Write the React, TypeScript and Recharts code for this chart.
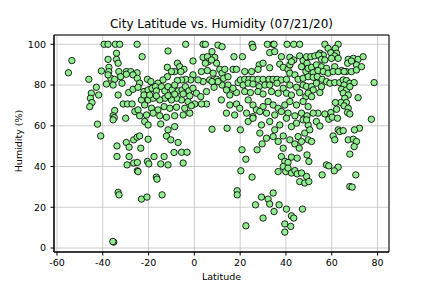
import { ScatterChart, Scatter, XAxis, YAxis, CartesianGrid, ReferenceArea } from "recharts";

// [latitude, humidity %], grouped by latitude band
const southCities: [number, number][] = [
  [-39.4, 100], [-37.7, 100], [-34.5, 100], [-32.6, 100], [-25, 100],
  [-53.5, 92], [-55, 86],
  [-34, 95.6], [-37.7, 92.6], [-34, 92.6], [-33.3, 90.7], [-40.6, 86.9], [-37.3, 88.7], [-37.4, 86.6], [-33, 86.6],
  [-29.7, 86.6], [-27.8, 86.6], [-25, 86], [-36.5, 83.4],
  [-46.1, 82.8], [-37.7, 85], [-34.8, 82.8], [-32.2, 84.1], [-29.7, 85.3], [-26.8, 85], [-24.9, 83.3],
  [-38.4, 80.5], [-35.5, 80], [-31.6, 80.9], [-23.9, 80.9], [-42.8, 78.9], [-45, 76], [-41.8, 75.1], [-33.3, 75.1],
  [-28.7, 76.3], [-26.8, 77.9],
  [-45.4, 73.5], [-44.7, 71.4], [-45.7, 69.4], [-31.1, 70.7], [-29.2, 70.7], [-27.2, 70.7], [-34.8, 67.5], [-26, 67],
  [-24.6, 67.8], [-35.5, 64.9], [-35, 64], [-35.5, 62.9], [-30, 63.7], [-42.3, 60.8], [-40.9, 55], [-29.7, 51.8],
  [-26.5, 53.1], [-25, 54.4],
  [-33.8, 50.1], [-28.5, 49.5], [-33.8, 44.9], [-28.5, 44.9], [-29.4, 40.8], [-26.5, 41.7], [-24.9, 37.9],
  [-33.3, 27.3], [-32.9, 26.1], [-35.2, 2.9], [-35.6, 3.2],
  [-22.8, 93.9], [-24.6, 78.9], [-22, 76.8], [-20.5, 82.8], [-23.1, 72.7], [-22, 75.1], [-21.7, 70.2],
  [-23.9, 64.9], [-20.9, 65.3], [-21.7, 62.1], [-20.2, 60.4], [-23.9, 55], [-20.2, 53.4], [-20.2, 72.7], [-20.2, 77.6],
  [-23.4, 49], [-24.9, 42], [-24.6, 37.5], [-20.5, 42.5], [-19.9, 41.3], [-23.1, 24], [-20.7, 25],
];

const tropicCities: [number, number][] = [
  [-3.8, 100], [3.8, 100], [4.8, 100], [10.3, 99.6], [12.1, 98.8], [-11.5, 96.7],
  [3.8, 93.6], [5.7, 93.9], [7.7, 96.4], [8.9, 93.6], [6, 91.4], [9.7, 90.7], [4.8, 90.7], [7.5, 92.3], [-0.6, 91.8],
  [-7.4, 90.7], [-11.8, 88.7], [-6.4, 89], [-4.5, 87.7], [-8.6, 86.6], [-5.9, 86.6],
  [-10, 86.6], [-11.8, 84.1], [-13.7, 82.5], [-15.9, 80.9], [-19, 81.7],
  [-0.6, 85], [3.1, 86.6], [5.7, 87.1], [8.2, 85.8], [11.1, 87.7], [12.1, 85.8], [9.7, 82.8], [6.7, 82.5], [3.8, 81.7],
  [1.6, 82.5], [-1.6, 82.5], [-3.8, 82.8], [-5.6, 82.5], [-7.4, 82.2],
  [5.3, 76.8], [8.6, 78.9], [12.1, 80], [10.3, 81.7], [7.7, 81.7],
  [-18.5, 78.4], [-17, 79.2], [-16.6, 77.1], [-14.4, 79.2], [-12.9, 77.1], [-11.5, 79.2], [-9.7, 77.6], [-8.6, 80],
  [-7.1, 77.1], [-5.4, 77.6], [-3.9, 79.2], [-2.4, 77.1], [-0.6, 78.4], [0.9, 76], [2.8, 74.3], [5.3, 70.7], [3.1, 70.7],
  [0.2, 70.7], [-2.8, 71.9], [-5.6, 72.7], [-7.8, 73.5], [-10, 72.7], [-12.9, 73.5], [-15.1, 72.7], [-18, 73.5],
  [-19.5, 75.1], [-16.6, 74.7], [-11.5, 74.8], [-8.6, 75.5], [-4.9, 75.6], [-2, 74.7],
  [-18.7, 68.6], [-15.9, 67.8], [-13.2, 69.4], [-10.7, 68.6], [-7.8, 69.1], [-4.2, 68.6], [-1.3, 69.8], [-18, 66.2],
  [-15.1, 64.9], [-12.2, 64.2], [-8.6, 64.9], [-4.9, 65.3], [-2, 66.2], [-14.7, 60.9], [-11.5, 58], [-8.6, 59.6],
  [-12.2, 55], [-7.1, 51.8], [7.7, 58.3],
  [-17.6, 44.9], [-14.7, 41.3], [-13.2, 44.9], [-11.5, 40.8], [-8.9, 46.9], [-5.6, 47], [-3.2, 47], [-4.9, 41.7],
  [-10.3, 53.1], [-16.6, 34.8], [-16.3, 33.8], [-14.1, 26.1],
  [13.3, 87.7], [16.9, 87.7], [18.4, 87.7], [17.3, 93.9], [12.8, 83.3], [14.7, 84.1], [14.7, 80], [19.1, 81.2],
  [15.5, 75.1], [18.4, 76.3], [14, 77.6], [16.9, 78.4], [11.8, 72.7], [15.5, 70.2], [18.4, 70.7], [19.8, 68.6],
  [14, 66.2], [17.6, 65.3], [14.3, 58.8], [18.7, 28.1], [18.7, 26.1],
];

const northCities: [number, number][] = [
  [25.2, 100], [31.9, 100], [34.4, 100], [34.8, 100], [40.5, 100], [43.4, 100], [46, 100],
  [25.6, 98.5], [32.9, 95.9], [35.1, 96.4], [38, 93.9], [21, 93.9],
  [41.7, 93.6], [43.4, 92.3], [46, 94.3], [47.5, 92], [49.2, 90.7],
  [28.3, 89.9], [30, 90.7], [27.8, 87.7], [25, 86.6], [22, 86.6],
  [32.9, 88.5], [37.3, 90.3], [38.8, 88.7], [40.9, 87.7], [41.7, 89.9], [42.4, 91.5], [46.8, 89], [48.7, 86.6], [49.7, 88.2],
  [20.1, 82.5], [22, 82.8], [23.9, 82.8], [25.6, 82.8], [27.8, 82.8], [30, 82.8], [32.6, 82.8], [34.4, 82.8],
  [36.1, 82.8], [38, 82.5], [40.2, 82.8], [41.7, 85.8], [43.9, 85], [45.3, 82.8], [47.5, 83.3], [49.7, 84.1],
  [21.3, 80], [23.5, 80.9], [25.6, 80.5], [28.3, 79.2], [30.8, 80], [32.9, 80], [36.1, 80.9], [38.8, 78.4],
  [41.7, 80], [44.6, 78.9], [47.5, 80], [49, 79.3],
  [22, 76.8], [24.5, 76.3], [27.8, 76.8], [30, 75.6], [33.7, 76.8], [36.6, 76], [40.2, 76], [42.4, 75.1], [46, 76.3], [48.7, 74.3],
  [23.5, 72.7], [25.6, 70.2], [27.1, 67.8], [30, 69.4], [32.2, 71.9], [34.4, 70.2], [36.6, 68.6], [39.5, 70.2],
  [41.7, 71.9], [44.6, 70.2], [47.5, 71.9], [49.7, 69.4],
  [22.8, 66.2], [25.6, 64.5], [28.6, 67], [31.5, 66.2], [35.1, 65.3], [38, 67], [40.9, 66.2], [43.9, 64.9], [46.8, 66.2], [49.2, 64.9],
  [20.1, 58], [23.5, 62.1], [25.6, 63.7], [29.3, 60.4], [32.9, 62.1], [35.1, 58], [37.3, 60.4], [40.2, 63.7],
  [42.4, 59.6], [44.6, 61.3], [47.5, 62.9], [49.7, 60.4],
  [28.6, 56.4], [31.5, 53.9], [34.4, 54.7], [36.6, 52.3], [38.8, 55], [41.7, 53.1], [45.3, 54.7], [48.2, 56.4], [49.7, 53.1],
  [20.8, 48.2], [22.5, 43.6], [27.4, 48.2], [29.6, 51.1], [38.8, 49], [43.9, 51.1], [45.8, 49], [46.8, 52.3], [49.2, 45.7],
  [38, 44.9], [39.5, 42.5], [42.4, 44.6], [44.9, 44.1], [40.9, 42],
  [20.3, 37.9], [25.2, 34.8],
  [36.6, 37.5], [38.8, 40], [39.9, 37.5], [40.9, 39.2], [42.4, 36.8], [43.9, 38], [44.9, 36.4], [46.8, 36.8],
  [46, 32.6], [49, 35.1], [48.2, 31.9],
  [29.3, 25], [32.2, 24], [34.4, 27], [32.9, 21.6], [26.7, 21.2], [37, 21.2], [34.8, 17.9], [30, 14.7], [40.2, 19.1],
  [47.2, 19.1], [42.4, 15.8], [43.4, 14.7], [39.5, 11.8], [42.1, 10.6], [39.5, 7.8], [22.5, 10.9],
];

const arcticCities: [number, number][] = [
  [57, 100], [62.8, 100], [58.4, 98], [61.6, 98], [59.6, 95.9], [62.1, 95.6], [61.3, 94.3], [54.8, 95.6], [56.3, 94.7],
  [49, 93.9], [50.9, 93.9], [52.6, 94.3], [54.3, 94.7], [55.5, 92.6], [57, 92.3], [59.9, 93.1], [62.8, 93.1],
  [67.2, 92.6], [69.4, 93.1], [71.5, 92.6], [73.7, 93.9],
  [66.9, 90.7], [70.8, 89.9], [68.6, 91.8],
  [51.2, 88.7], [53.3, 89.9], [55.5, 89], [57.7, 88.2], [61.3, 89], [64.3, 87.1], [66.4, 86.6], [68.6, 86.6], [70.8, 87.4], [73, 89],
  [51.9, 86.1], [54, 87.1], [56.3, 86.6], [58.4, 85.8], [60.6, 86.6], [62.8, 86.6], [65.4, 86.6],
  [51.9, 83.8], [53.7, 84.1], [55.8, 82.8], [57.7, 81.7], [59.2, 80.9], [61.3, 81.2], [63.5, 81.2], [65, 82.5],
  [66.4, 82.2], [67.9, 80.9], [69.8, 81.2], [78.5, 81.2],
  [51.2, 79.3], [53.3, 80.9], [55.5, 79.2], [51.9, 77.6], [49.7, 76], [54.8, 76.3], [51.2, 74.3],
  [65.4, 80], [64.3, 77.9], [66.4, 77.6], [65, 76], [67.2, 75.1], [67.9, 79.2], [65.7, 73.5], [64, 71.4], [66.4, 71.4],
  [71.5, 73.8], [61.6, 71.4], [65.4, 69.8], [67.2, 68.6], [66.9, 66.5], [67.9, 65.8], [62.1, 68.1], [59.6, 66.5],
  [58.7, 63.2], [60.2, 64.2], [62.5, 63.7], [54, 66.2], [57, 65.8], [51.9, 66.2], [53.3, 62.1], [54.8, 59.9], [49, 62.9],
  [50.4, 58], [77.3, 63.2], [72.1, 58.8], [69.9, 58], [62.8, 58], [60.6, 55], [63.5, 57.2], [65, 57.6], [61.3, 53.1],
  [67.2, 53.1], [69.4, 53.4], [70.8, 52.3], [51.2, 52.3],
  [69.8, 49.8], [67.9, 46.1], [50, 42.5], [57.7, 40.8], [58.7, 40.3], [62.8, 39.7], [61.1, 37.9], [55.8, 35.9],
  [50, 32.6], [70.5, 35.9], [67.9, 30.2], [68.9, 29.9],
];

const xTicks = [-60, -40, -20, 0, 20, 40, 60, 80];
const yTicks = [0, 20, 40, 60, 80, 100];
const xDomain: [number, number] = [-61.3, 85];
const yDomain: [number, number] = [-1.96, 104.56];

const points = [...southCities, ...tropicCities, ...northCities, ...arcticCities].map(([lat, hum]) => ({ lat, hum }));

const font = "'DejaVu Sans', sans-serif";

const Dot = (props: any) => (
  <circle cx={props.cx} cy={props.cy} r={3.2} fill="#90ee90" stroke="#000" strokeWidth={0.85} />
);

export default function App() {
  return (
    <div style={{ position: "fixed", left: 0, top: 0, width: 432, height: 288, background: "#fff", fontFamily: font }}>
      <ScatterChart width={432} height={288} margin={{ top: 35, right: 43, bottom: 0, left: 0 }}>
        <CartesianGrid stroke="#c0c0c0" strokeWidth={0.8} />
        <XAxis
          type="number"
          dataKey="lat"
          domain={xDomain}
          ticks={xTicks}
          allowDataOverflow
          height={36}
          tickSize={3.5}
          tickMargin={3.5}
          stroke="#000"
          tick={{ fontSize: 9.5, fill: "#000", fontFamily: font }}
        />
        <YAxis
          type="number"
          dataKey="hum"
          domain={yDomain}
          ticks={yTicks}
          allowDataOverflow
          width={54}
          tickSize={3.5}
          tickMargin={4.5}
          stroke="#000"
          tick={{ fontSize: 9.5, fill: "#000", fontFamily: font }}
        />
        <Scatter data={points} shape={Dot} isAnimationActive={false} />
        <ReferenceArea
          x1={xDomain[0]}
          x2={xDomain[1]}
          y1={yDomain[0]}
          y2={yDomain[1]}
          fill="none"
          stroke="#000"
          strokeWidth={1}
          ifOverflow="visible"
        />
      </ScatterChart>
      <div style={{ position: "absolute", left: 54, width: 335, top: 17, textAlign: "center", fontSize: 12, lineHeight: "14px", color: "#000" }}>
        City Latitude vs. Humidity (07/21/20)
      </div>
      <div style={{ position: "absolute", left: 54, width: 335, top: 271, textAlign: "center", fontSize: 9.5, lineHeight: "11px", color: "#000" }}>
        Latitude
      </div>
      <div
        style={{
          position: "absolute",
          left: 17.5,
          top: 141,
          transform: "translate(-50%, -50%) rotate(-90deg)",
          whiteSpace: "nowrap",
          fontSize: 9.5,
          lineHeight: "11px",
          color: "#000",
        }}
      >
        Humidity (%)
      </div>
    </div>
  );
}
